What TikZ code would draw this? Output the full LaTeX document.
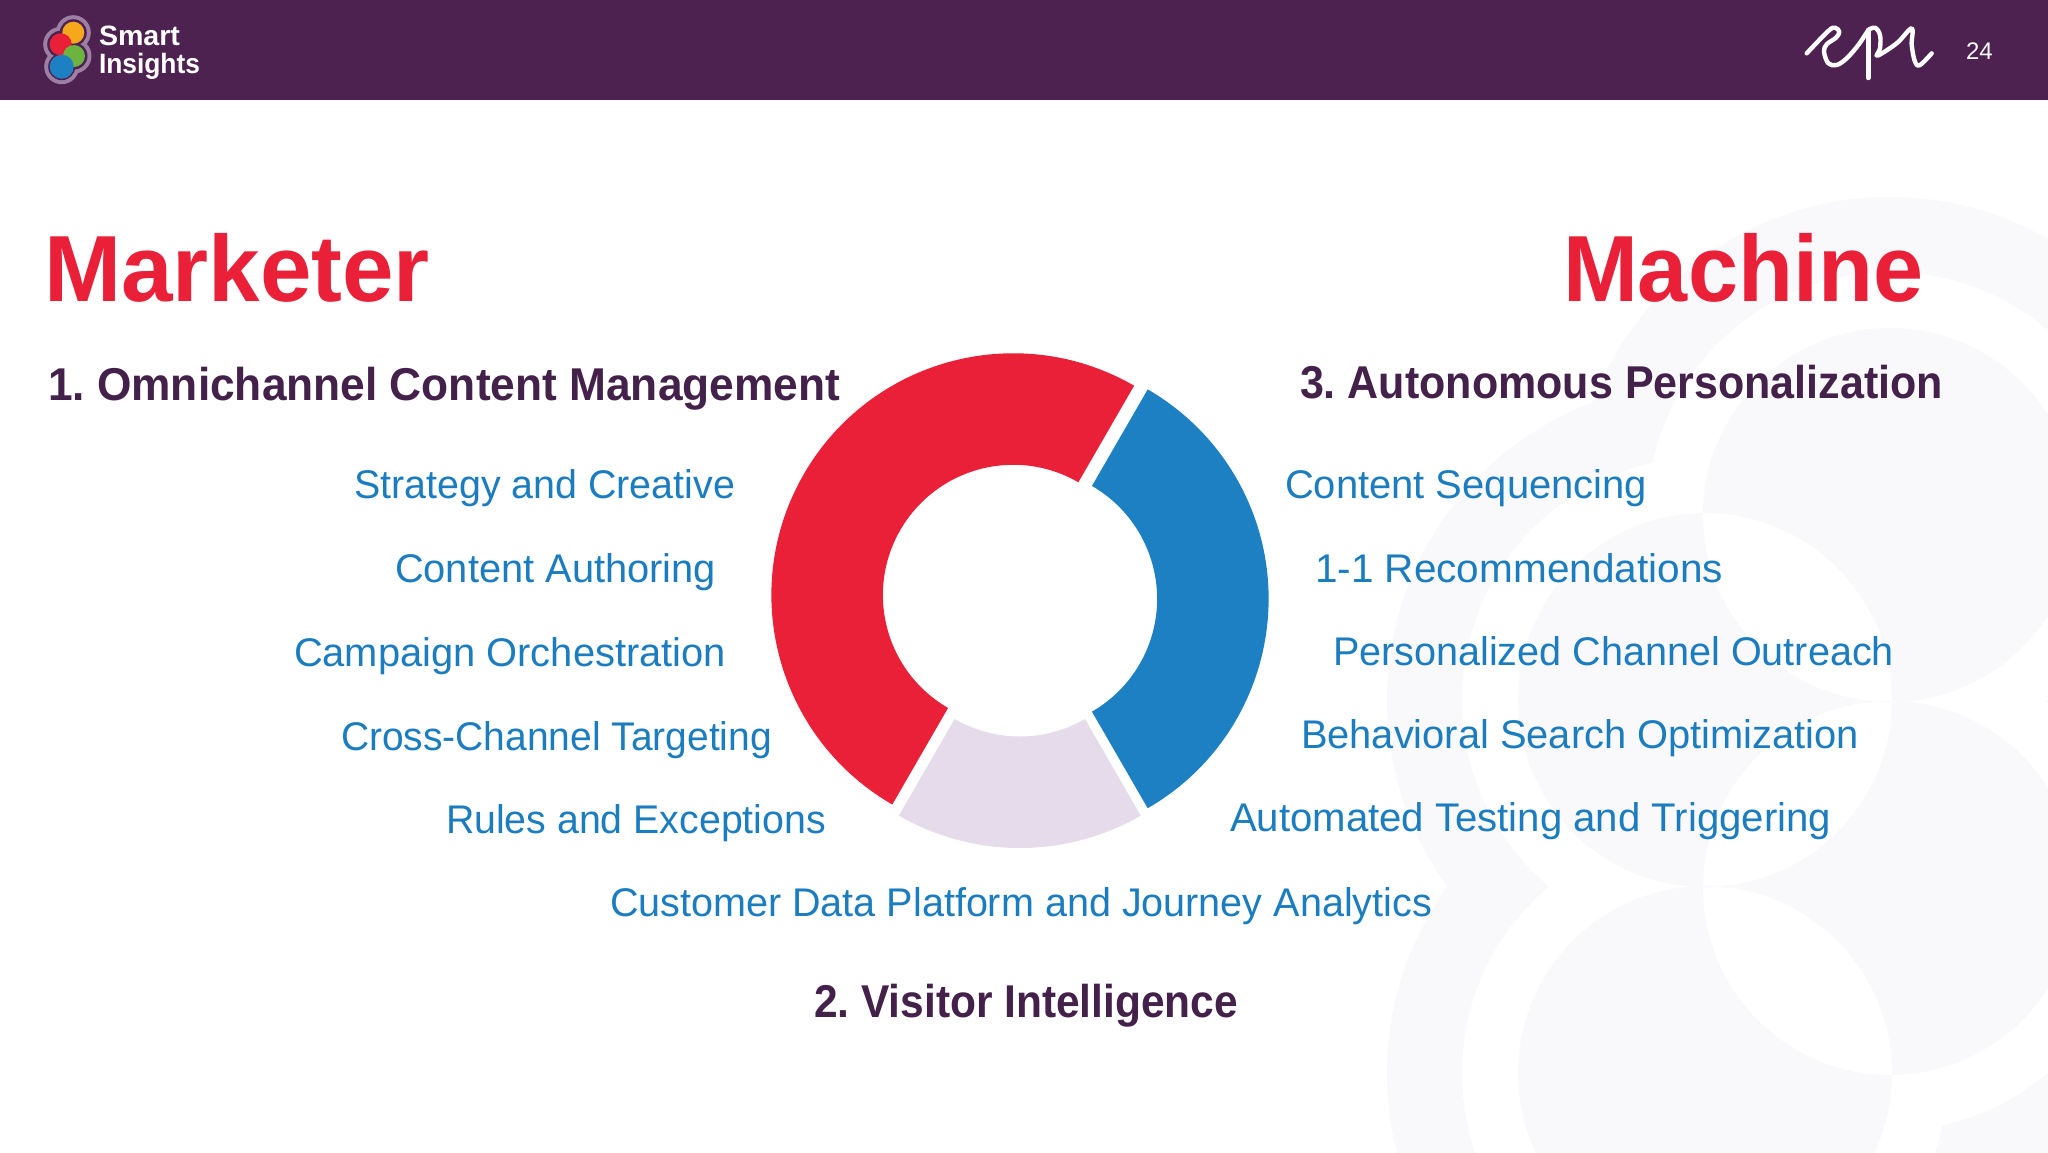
\documentclass[tikz,border=0pt]{standalone}
\usepackage{fontspec}
\usepackage{graphicx}
\setmainfont{Liberation Sans}
\definecolor{barpurple}{HTML}{4D2250}
\definecolor{hotred}{HTML}{E92038}
\definecolor{chartblue}{HTML}{1C80C3}
\definecolor{lilac}{HTML}{E6DBEB}
\definecolor{darktxt}{HTML}{43214A}
\definecolor{bluetxt}{HTML}{1B7DC0}
\definecolor{pale}{HTML}{F9F8FB}
\definecolor{halo}{HTML}{9C7FA3}
\definecolor{logoorange}{HTML}{F5A81C}
\definecolor{logogreen}{HTML}{6DB33F}
\newcommand\fitw[2]{\resizebox{#1pt}{\height}{#2}}
\newcommand\slicepath[4]{% cx cy start end
  ({#1+241.8*cos(#3)},{#2-241.8*sin(#3)}) arc[start angle=#3,end angle=#4,radius=241.8pt]
  -- ({#1+130.3*cos(#4)},{#2-130.3*sin(#4)}) arc[start angle=#4,end angle=#3,radius=130.3pt] -- cycle}
\tikzset{
  x=1pt,y=-1pt,
  lbl/.style={inner sep=0pt,outer sep=0pt,anchor=base west},
  bigtitle/.style={lbl,text=hotred,font=\fontsize{94}{100}\selectfont\bfseries\frenchspacing},
  heading/.style={lbl,text=darktxt,font=\fontsize{46}{50}\selectfont\bfseries\frenchspacing},
  item/.style={lbl,text=bluetxt,font=\fontsize{40}{46}\selectfont\frenchspacing},
  brand/.style={lbl,text=white,font=\fontsize{28}{30}\selectfont\bfseries},
  logoline/.style={draw=white,line width=4.4pt,line cap=round,line join=round},
}
\begin{document}
\begin{tikzpicture}
\useasboundingbox (0,0) rectangle (2048,1152);
\fill[white] (0,0) rectangle (2048,1152);
% watermark
\begin{scope}
\clip (0,0) rectangle (2048,1152);
\foreach \cx/\cy in {1890/515,1705/700,1705/1073,1890/888}{\fill[pale] (\cx,\cy) circle[radius=318pt];}
\foreach \cx/\cy in {1890/515,1705/700,1705/1073,1890/888}{\fill[white] (\cx,\cy) circle[radius=243pt];}
\fill[pale,even odd rule] (1890,515) circle[radius=187pt] (1705,700) circle[radius=187pt] (1705,1073) circle[radius=187pt] (1890,888) circle[radius=187pt];
\end{scope}
% header
\fill[barpurple] (0,0) rectangle (2048,100);
\foreach \cx/\cy in {73.3/32.7,60.7/44.3,74/56,61.7/66.7}{\fill[halo] (\cx,\cy) circle[radius=17.5pt];}
\foreach \cx/\cy in {73.3/32.7,60.7/44.3,74/56,61.7/66.7}{\fill[barpurple] (\cx,\cy) circle[radius=13.5pt];}
\fill[logoorange] (73.3,32.7) circle[radius=11pt];
\fill[hotred] (60.7,44.3) circle[radius=11pt];
\fill[logogreen] (74,56) circle[radius=11pt];
\fill[chartblue] (61.7,66.7) circle[radius=12pt];
\node[brand] (smart) at (99,45) {\fitw{81}{Smart}};
\node[brand] (insights) at (99,73) {\fitw{101}{Insights}};
\draw[logoline] plot[smooth,tension=.6] coordinates {(1806.7,53.3) (1828.3,31) (1835,27.7) (1839.3,31.7) (1836,37.7) (1826.7,44.3) (1824,51.7) (1828.3,63.3) (1836.7,65) (1846.7,58.3) (1858.3,45) (1868.3,30)};
\draw[logoline] (1868.3,30) -- (1868.3,78);
\draw[logoline] plot[smooth,tension=.6] coordinates {(1868.3,30) (1875,27.7) (1880,35) (1880,48.3) (1877.3,55.7) (1896.7,43.3) (1911.7,28.3) (1911.7,45) (1915,61.7) (1920,65) (1931.7,53.3)};
\node[lbl,text=white!90!lilac,font=\fontsize{24}{26}\selectfont] (pagenum) at (1966,59) {24};
% donut
\fill[hotred] \slicepath{1013.2}{595.1}{60}{240};
\fill[chartblue] \slicepath{1026.8}{598.8}{-60}{60};
\fill[lilac] \slicepath{1019.8}{606.2}{240}{300};
% titles
\node[bigtitle] (marketer) at (44,301) {\fitw{386}{Marketer}};
\node[bigtitle] (machine) at (1563,301) {\fitw{360}{Machine}};
\node[heading] (h1) at (48,400) {\fitw{792}{1. Omnichannel Content Management}};
\node[heading] (h3) at (1300,398) {\fitw{643}{3. Autonomous Personalization}};
\node[heading] (h2) at (814,1017) {\fitw{424}{2. Visitor Intelligence}};
% left
\node[item] (l1) at (354,498.5) {\fitw{381}{Strategy and Creative}};
\node[item] (l2) at (395,582.5) {\fitw{321}{Content Authoring}};
\node[item] (l3) at (294,666.5) {\fitw{432}{Campaign Orchestration}};
\node[item] (l4) at (341,750.5) {\fitw{431}{Cross-Channel Targeting}};
\node[item] (l5) at (446,833.5) {\fitw{380}{Rules and Exceptions}};
% right
\node[item] (r1) at (1285,498) {\fitw{362}{Content Sequencing}};
\node[item] (r2) at (1315,582) {\fitw{408}{1-1 Recommendations}};
\node[item] (r3) at (1333,665) {\fitw{561}{Personalized Channel Outreach}};
\node[item] (r4) at (1301,748) {\fitw{558}{Behavioral Search Optimization}};
\node[item] (r5) at (1230,831) {\fitw{601}{Automated Testing and Triggering}};
\node[item] (cdp) at (610,916) {\fitw{822}{Customer Data Platform and Journey Analytics}};
\end{tikzpicture}
\end{document}
